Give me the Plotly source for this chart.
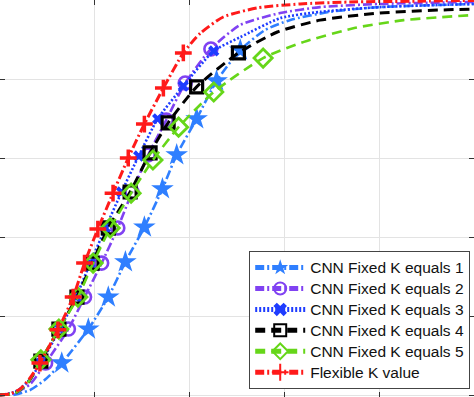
import plotly.graph_objects as go

# ---- data (x in grid units, y = cumulative probability) ----
names = ["CNN Fixed K equals 1", "CNN Fixed K equals 2", "CNN Fixed K equals 3",
         "CNN Fixed K equals 4", "CNN Fixed K equals 5", "Flexible K value"]

k1_x = [0.14, 0.32, 0.47, 0.65, 0.93, 1.14, 1.32, 1.52, 1.71, 1.86, 2.07, 2.28, 2.53, 2.79, 3.05, 3.47, 4.0, 4.99]
k1_y = [0.0, 0.013, 0.038, 0.081, 0.167, 0.248, 0.337, 0.425, 0.522, 0.608, 0.699, 0.795, 0.873, 0.924, 0.949, 0.97, 0.982, 0.99]
k1_mx = [0.65, 0.93, 1.14, 1.32, 1.52, 1.71, 1.86, 2.07, 2.28, 2.53]
k1_my = [0.081, 0.167, 0.248, 0.337, 0.425, 0.522, 0.608, 0.699, 0.795, 0.873]

k2_x = [0.0, 0.16, 0.32, 0.48, 0.72, 0.89, 1.07, 1.24, 1.39, 1.56, 1.75, 1.95, 2.22, 2.53, 2.95, 3.37, 4.0, 4.99]
k2_y = [0.0, 0.005, 0.028, 0.081, 0.167, 0.248, 0.334, 0.423, 0.514, 0.608, 0.696, 0.79, 0.876, 0.937, 0.967, 0.982, 0.99, 0.995]
k2_mx = [0.48, 0.72, 0.89, 1.07, 1.24, 1.39, 1.56, 1.75, 1.95, 2.22]
k2_my = [0.081, 0.167, 0.248, 0.334, 0.423, 0.514, 0.608, 0.696, 0.79, 0.876]

k3_x = [0.0, 0.16, 0.29, 0.43, 0.63, 0.8, 0.95, 1.11, 1.28, 1.46, 1.66, 1.93, 2.25, 2.53, 2.95, 3.37, 4.0, 4.99]
k3_y = [0.0, 0.008, 0.033, 0.081, 0.167, 0.248, 0.334, 0.423, 0.514, 0.605, 0.699, 0.782, 0.871, 0.906, 0.954, 0.97, 0.982, 0.99]
k3_mx = [0.43, 0.63, 0.8, 0.95, 1.11, 1.28, 1.46, 1.66, 1.93, 2.25]
k3_my = [0.081, 0.167, 0.248, 0.334, 0.423, 0.514, 0.605, 0.699, 0.782, 0.871]

k4_x = [0.0, 0.16, 0.29, 0.43, 0.62, 0.81, 0.97, 1.14, 1.37, 1.58, 1.77, 2.07, 2.51, 2.92, 3.37, 4.0, 4.67, 4.99]
k4_y = [0.0, 0.005, 0.03, 0.086, 0.167, 0.248, 0.334, 0.423, 0.514, 0.613, 0.689, 0.78, 0.866, 0.919, 0.949, 0.967, 0.975, 0.977]
k4_mx = [0.43, 0.62, 0.81, 0.97, 1.14, 1.37, 1.58, 1.77, 2.07, 2.51]
k4_my = [0.086, 0.167, 0.248, 0.334, 0.423, 0.514, 0.613, 0.689, 0.78, 0.866]

k5_x = [0.0, 0.16, 0.29, 0.43, 0.62, 0.82, 0.98, 1.16, 1.38, 1.61, 1.88, 2.25, 2.77, 3.2, 3.73, 4.25, 4.99]
k5_y = [0.0, 0.005, 0.03, 0.089, 0.167, 0.248, 0.334, 0.423, 0.511, 0.595, 0.678, 0.767, 0.853, 0.894, 0.929, 0.949, 0.962]
k5_mx = [0.43, 0.62, 0.82, 0.98, 1.16, 1.38, 1.61, 1.88, 2.25, 2.77]
k5_my = [0.089, 0.167, 0.248, 0.334, 0.423, 0.511, 0.595, 0.678, 0.767, 0.853]

fx_x = [0.0, 0.105, 0.21, 0.316, 0.42, 0.61, 0.77, 0.89, 1.03, 1.19, 1.35, 1.52, 1.72, 1.93, 2.11, 2.35, 2.71, 3.16, 3.68, 4.42, 4.99]
fx_y = [0.0, 0.003, 0.015, 0.043, 0.081, 0.165, 0.248, 0.334, 0.42, 0.511, 0.6, 0.686, 0.777, 0.866, 0.916, 0.957, 0.98, 0.99, 0.995, 0.997, 0.999]
fx_mx = [0.42, 0.61, 0.77, 0.89, 1.03, 1.19, 1.35, 1.52, 1.72, 1.93]
fx_my = [0.081, 0.165, 0.248, 0.334, 0.42, 0.511, 0.6, 0.686, 0.777, 0.866]

x_ticks = [0, 1, 2, 3, 4, 5]
y_ticks = [0, 0.2, 0.4, 0.6, 0.8, 1.0]

series = [
    (k1_x, k1_y, k1_mx, k1_my),
    (k2_x, k2_y, k2_mx, k2_my),
    (k3_x, k3_y, k3_mx, k3_my),
    (k4_x, k4_y, k4_mx, k4_my),
    (k5_x, k5_y, k5_mx, k5_my),
    (fx_x, fx_y, fx_mx, fx_my),
]

styles = [
    dict(color="#2f7fff", dash="9px,3px,2px,3px", width=2.6, symbol="star", msize=17, mlw=0),
    dict(color="#8042f2", dash="9px,3px,2px,3px", width=2.6, symbol="circle-open", msize=13, mlw=2.6),
    dict(color="#1e3cff", dash="2px,2px", width=2.6, symbol="x", msize=10, mlw=0),
    dict(color="#000000", dash="10px,6px", width=3, symbol="square-open", msize=12, mlw=3.2),
    dict(color="#66d619", dash="10px,6px", width=2.6, symbol="diamond-open", msize=14, mlw=2.8),
    dict(color="#ff1a1a", dash="9px,3px,2px,3px", width=3, symbol="cross-thin-open", msize=12, mlw=3.5),
]

fig = go.Figure()
for i in range(6):
    x, y, mx, my = series[i]
    s = styles[i]
    fig.add_trace(go.Scatter(x=x, y=y, mode="lines", showlegend=False,
                             line=dict(color=s["color"], width=s["width"], dash=s["dash"], shape="spline", smoothing=0.6),
                             hoverinfo="skip"))
    fig.add_trace(go.Scatter(x=mx, y=my, mode="markers", showlegend=False,
                             marker=dict(symbol=s["symbol"], size=s["msize"], color=s["color"],
                                         line=dict(color=s["color"], width=s["mlw"]))))
for i in range(6):
    s = styles[i]
    fig.add_trace(go.Scatter(x=[None], y=[None], mode="lines+markers",
                             name='<span style="font-size:15.5px">' + names[i] + '</span>',
                             line=dict(color=s["color"], width=s["width"], dash=s["dash"]),
                             marker=dict(symbol=s["symbol"], size=s["msize"], color=s["color"],
                                         line=dict(color=s["color"], width=s["mlw"]))))

axis_common = dict(showgrid=True, gridcolor="#e3e3e3", gridwidth=1, zeroline=False,
                   showline=False, ticks="inside", ticklen=5, tickcolor="#333333",
                   mirror="ticks", showticklabels=False)

fig.update_layout(
    width=474, height=397,
    margin=dict(l=0, r=0, t=0, b=0),
    paper_bgcolor="white", plot_bgcolor="white",
    xaxis=dict(range=[0, 4.99], tickvals=x_ticks, **axis_common),
    yaxis=dict(range=[-0.005, 1.0], tickvals=y_ticks, **axis_common),
    legend=dict(x=0.992, y=0.02, xanchor="right", yanchor="bottom",
                bgcolor="white", bordercolor="#444444", borderwidth=1,
                font=dict(family="Liberation Sans, Arial", size=13.8, color="#111111"),
                itemwidth=50, itemsizing="constant", tracegroupgap=0),
    showlegend=True,
)

fig.write_html("out.html", config={"displayModeBar": False},
               post_script="document.body.style.margin='0';document.body.style.overflow='hidden';")
